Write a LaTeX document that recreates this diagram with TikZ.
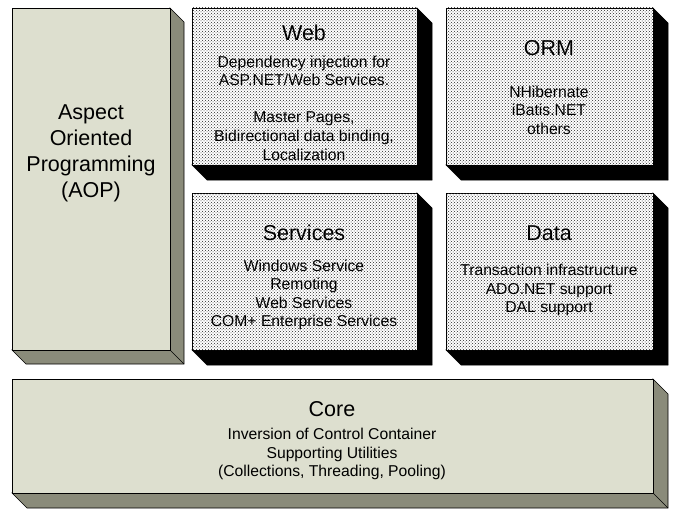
\documentclass[tikz,border=0pt]{standalone}
\usepackage{fontspec}
\setmainfont{Liberation Sans}
\usetikzlibrary{patterns}
\definecolor{face}{HTML}{DDDFCF}
\definecolor{side}{HTML}{8A8B7A}
\newcommand{\blk}[7]{% x1 y1 x2 y2 depth facestyle sidecolor
  \fill[#7,draw=black,line width=0.6pt] (#3,#2) -- ({#3+#5},{#2+#5}) -- ({#3+#5},{#4+#5}) -- ({#1+#5},{#4+#5}) -- (#1,#4) -- (#3,#4) -- cycle;
  \draw[line width=0.6pt] (#3,#4) -- ({#3+#5},{#4+#5});
  \draw[#6,line width=0.6pt] (#1,#2) rectangle (#3,#4);
}
\tikzset{
  dotted face/.style={fill=white,postaction={pattern=crosshatch dots,pattern color=black!85}},
  plain face/.style={fill=face},
  ttl/.style={font=\fontsize{21.5}{24}\selectfont,inner sep=0pt},
  txt/.style={font=\fontsize{15.7}{18.6}\selectfont,align=center,inner sep=0pt},
}
\begin{document}
\begin{tikzpicture}[x=1pt,y=-1pt]
\useasboundingbox (0,0) rectangle (679,513);
\fill[white] (0,0) rectangle (679,513);
\blk{12}{8}{170}{350}{14}{plain face}{side}
\blk{192}{8}{417}{165}{15}{dotted face}{black}
\blk{446}{8}{653}{165}{15}{dotted face}{black}
\blk{192}{193}{417}{350}{15}{dotted face}{black}
\blk{446}{193}{653}{350}{15}{dotted face}{black}
\blk{12}{379}{653}{493}{15}{plain face}{side}
\node[txt,font=\fontsize{21.5}{26}\selectfont] (aop) at (91,153) {Aspect\\Oriented\\Programming\\(AOP)};
\node[ttl] (web) at (304,33) {Web};
\node[txt] (webt) at (304,108) {Dependency injection for\\ASP.NET/Web Services.\\[18.6pt]Master Pages,\\Bidirectional data binding,\\Localization};
\node[ttl] (orm) at (549,48) {ORM};
\node[txt] (ormt) at (549,110) {NHibernate\\iBatis.NET\\others};
\node[ttl] (srv) at (304,233) {Services};
\node[txt] (srvt) at (304,295) {Windows Service\\Remoting\\Web Services\\COM+ Enterprise Services};
\node[ttl] (data) at (549,233) {Data};
\node[txt] (datat) at (549,290) {Transaction infrastructure\\ADO.NET support\\DAL support};
\node[ttl] (core) at (332,409) {Core};
\node[txt] (coret) at (332,454) {Inversion of Control Container\\Supporting Utilities\\(Collections, Threading, Pooling)};
\end{tikzpicture}
\end{document}
